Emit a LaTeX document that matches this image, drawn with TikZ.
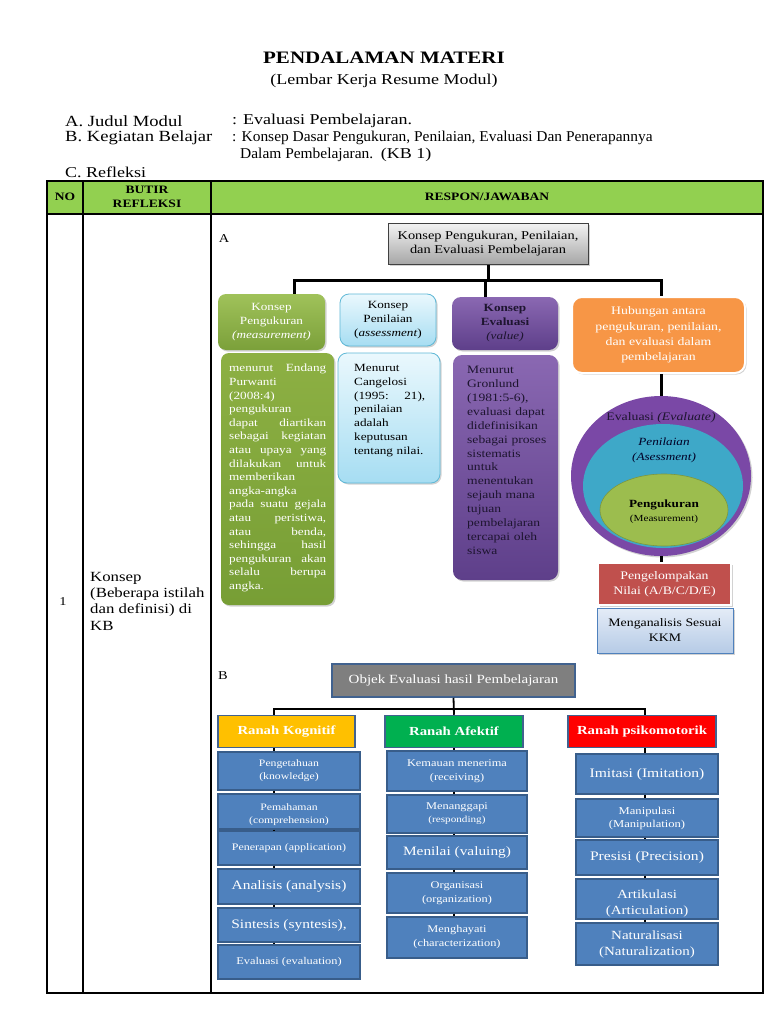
\documentclass[tikz,border=0pt]{standalone}
\usepackage{fontspec}
\setmainfont{Liberation Serif}[FakeStretch=1.2]
\newfontfamily\condfont{Liberation Serif}[FakeStretch=1.03]
\usetikzlibrary{shadows,shapes.geometric}
\definecolor{hdrgreen}{HTML}{92D050}
\definecolor{boxblue}{HTML}{4F81BD}
\definecolor{boxblueedge}{HTML}{385D8A}
\definecolor{orangeA}{HTML}{F79646}
\definecolor{redA}{HTML}{C0504D}
\definecolor{darkpurp}{HTML}{1E1530}
\definecolor{greenT}{HTML}{A0C25A}
\definecolor{greenB}{HTML}{7BA03A}
\definecolor{greenBody}{HTML}{8DB043}
\definecolor{greenBodyB}{HTML}{779E35}
\definecolor{lbT}{HTML}{EAF8FD}
\definecolor{lbB}{HTML}{A6DDF2}
\definecolor{lbEdge}{HTML}{5FB8D6}
\definecolor{purT}{HTML}{8A68B2}
\definecolor{purB}{HTML}{5E3F8A}
\definecolor{evPurple}{HTML}{7A48A6}
\definecolor{pnBlue}{HTML}{3EA8C8}
\definecolor{pgGreen}{HTML}{9CBD4E}
\definecolor{kkmT}{HTML}{E4ECF7}
\definecolor{kkmB}{HTML}{B6CBE6}
\definecolor{objGray}{HTML}{7F7F7F}
\definecolor{objEdge}{HTML}{41628F}
\definecolor{kogY}{HTML}{FFC000}
\definecolor{afG}{HTML}{00B050}
\definecolor{psR}{HTML}{FF0000}
\newcommand\fz[2]{\fontsize{#1}{#2}\selectfont}
\tikzset{
  conn/.style={line width=3pt, black},
  conb/.style={line width=1.8pt, black},
  tbl/.style={line width=1.1pt, black},
  txt/.style={inner sep=0pt, align=center},
  shad/.style={drop shadow={opacity=0.35, shadow xshift=1.5pt, shadow yshift=-1.5pt}},
  graybox/.style={draw=black!75, line width=1pt, top color=white!95!black, bottom color=black!35, align=center, inner sep=2pt, shad},
  gtop/.style={rounded corners=8pt, top color=greenT, bottom color=greenB, text=white, align=center, inner sep=1pt, shad},
  gbody/.style={rounded corners=8pt, top color=greenBody, bottom color=greenBodyB, shad},
  ltop/.style={rounded corners=9pt, draw=lbEdge, line width=0.8pt, top color=lbT, bottom color=lbB, align=center, inner sep=1pt, shad},
  ptop/.style={rounded corners=9pt, top color=purT, bottom color=purB, text=darkpurp, align=center, inner sep=1pt, shad},
  obox/.style={rounded corners=10pt, fill=orangeA, draw=white, line width=2pt, text=white, align=center, inner sep=1pt, shad},
  bb/.style={fill=boxblue, draw=boxblueedge, line width=1.3pt, text=white, align=center, inner sep=1pt, drop shadow={opacity=0.3, shadow xshift=1pt, shadow yshift=-1pt}},
  hdr/.style={draw=objEdge, line width=1.5pt, text=white, align=center, inner sep=1pt, font=\bfseries\fz{12.3}{14}},
  body/.style={txt, anchor=west, font=\fz{15}{17}},
  lbl/.style={txt, anchor=west, font=\fz{15.5}{17}},
}
\begin{document}
\begin{tikzpicture}[x=1pt,y=-1pt]
\useasboundingbox (0,0) rectangle (768,1024);
\fill[white] (0,0) rectangle (768,1024);

% ---------- heading ----------
\node[txt, font=\bfseries\fz{17.5}{20}] (title) at (384,58) {PENDALAMAN MATERI};
\node[txt, font=\fz{15}{17}] (sub) at (384,81) {(Lembar Kerja Resume Modul)};
\node[lbl] (la) at (65,121) {A. Judul Modul};
\node[body] (lav) at (232,121) {: Evaluasi Pembelajaran.};
\node[lbl] (lb) at (65,138) {B. Kegiatan Belajar};
\node[body, font=\condfont\fz{15}{17}] (lbv) at (232,138) {: Konsep Dasar Pengukuran, Penilaian, Evaluasi Dan Penerapannya};
\node[body, font=\condfont\fz{15}{17}] (lbv2) at (240,155) {Dalam Pembelajaran.\ \ {\normalfont\fz{15}{17}(KB 1)}};
\node[body] (lc) at (65,172) {C. Refleksi};

% ---------- table ----------
\fill[hdrgreen] (47,181) rectangle (763,214);
\draw[tbl] (47,181) rectangle (763,993);
\draw[tbl] (47,214) -- (763,214);
\draw[tbl] (83,181) -- (83,993);
\draw[tbl] (211,181) -- (211,993);
\node[txt, font=\bfseries\fz{11.3}{13}] (hno) at (65,197) {NO};
\node[txt, font=\bfseries\fz{11.3}{14}] (hbr) at (147,197) {BUTIR\\REFLEKSI};
\node[txt, font=\bfseries\fz{11.3}{13}] (hrj) at (487,197) {RESPON/JAWABAN};
\node[txt, font=\fz{12}{14}] (no1) at (63,602) {1};
\node[txt, anchor=north west, align=left, font=\fz{14}{16.3}] (br1) at (90,572) {Konsep\\(Beberapa istilah\\dan definisi) di\\KB};

% ---------- section A ----------
\node[txt, font=\fz{12}{14}] (lA) at (224,239) {A};
\node[graybox, minimum width=200pt, minimum height=41pt, font=\fz{12}{14}] (top) at (488,244) {Konsep Pengukuran, Penilaian,\\dan Evaluasi Pembelajaran};

\node[gtop, minimum width=107pt, minimum height=56pt, font=\fz{11}{14}] (g1) at (271.5,322) {Konsep\\Pengukuran\\\textit{(measurement)}};
\node[ltop, minimum width=96pt, minimum height=52pt, font=\fz{11}{14}] (b1) at (388,320) {Konsep\\Penilaian\\(\textit{assessment})};
\node[ptop, minimum width=106pt, minimum height=53pt, font=\bfseries\fz{11}{14}] (p1) at (505,323.5) {Konsep\\Evaluasi\\\mdseries\textit{(value)}};
\node[obox, minimum width=173pt, minimum height=76pt, font=\fz{11.5}{15.3}] (o4) at (658.5,335) {Hubungan antara\\pengukuran, penilaian,\\dan evaluasi dalam\\pembelajaran};

\coordinate (barL) at (294,280);
\coordinate (barM) at (485,280);
\coordinate (barR) at (661,280);
\draw[conn] (top.south) -- (top.south |- barM);
\draw[conn, line join=miter] (g1.north -| barL) -- (barL) -- (barR) -- (barR |- o4.north);
\draw[conn] (barM) -- (barM |- p1.north);

\node[gbody, minimum width=113pt, minimum height=252pt] (g2) at (277.5,479) {};
\node[ltop, minimum width=102pt, minimum height=130pt] (b2) at (389,418) {};
\node[ptop, minimum width=105pt, minimum height=225pt] (p2) at (505.5,467.5) {};

\node[anchor=north west, inner sep=0pt, text width=97pt, align=left, text=white, font=\fz{11}{13.6}] (gtxt) at (229,364)
{menurut\hfill Endang\\Purwanti\\(2008:4)\\pengukuran\\dapat\hfill diartikan\\sebagai\hfill kegiatan\\atau\hfill upaya\hfill yang\\dilakukan\hfill untuk\\memberikan\\angka-angka\\pada\hfill suatu\hfill gejala\\atau\hfill peristiwa,\\atau\hfill benda,\\sehingga\hfill hasil\\pengukuran\hfill akan\\selalu\hfill berupa\\angka.};
\node[anchor=north west, inner sep=0pt, text width=71pt, align=left, text=black, font=\fz{11}{13.8}] (btxt) at (354,364)
{Menurut\\Cangelosi\\(1995:\hfill 21),\\penilaian\\adalah\\keputusan\\tentang nilai.};
\node[anchor=north west, inner sep=0pt, text width=82pt, align=left, text=darkpurp, font=\fz{11.3}{13.9}] (ptxt) at (467,366)
{Menurut\\Gronlund\\(1981:5-6),\\evaluasi dapat\\didefinisikan\\sebagai proses\\sistematis\\untuk\\menentukan\\sejauh mana\\tujuan\\pembelajaran\\tercapai oleh\\siswa};

% circles
\node[ellipse, fill=evPurple, minimum width=180pt, minimum height=160pt, inner sep=0pt, shad] (ev) at (661,476) {};
\node[ellipse, fill=pnBlue, minimum width=160pt, minimum height=124pt, inner sep=0pt] (pn) at (663,486) {};
\node[ellipse, fill=pgGreen, draw=pgGreen!80!black, line width=0.6pt, minimum width=128pt, minimum height=72pt, inner sep=0pt] (pg) at (664,510) {};
\node[txt, font=\fz{11.5}{14}, text=darkpurp] (evt) at (661,418) {Evaluasi \textit{(Evaluate)}};
\node[txt, font=\itshape\fz{11}{15}, text=black!85!blue] (pnt) at (664,450) {Penilaian\\(Asessment)};
\node[txt, font=\bfseries\fz{11}{14}, text=black] (pgt1) at (664,505) {Pengukuran};
\node[txt, font=\fz{9.3}{12}, text=black] (pgt2) at (664,519) {(Measurement)};
\draw[conn] (o4.south -| ev.north) -- (ev.north);

\node[fill=redA, draw=white, line width=2.5pt, minimum width=133pt, minimum height=42pt, text=white, align=center, inner sep=1pt, font=\fz{11.5}{15}, shad] (red) at (664.5,584) {Pengelompakan\\Nilai (A/B/C/D/E)};
\node[draw=boxblue, line width=1pt, top color=kkmT, bottom color=kkmB, minimum width=136pt, minimum height=45pt, align=center, inner sep=1pt, font=\fz{11.5}{15}, shad] (kkm) at (665,630.5) {Menganalisis Sesuai\\KKM};
\draw[conn] (ev.south) -- (ev.south |- red.north);

% ---------- section B ----------
\node[txt, font=\fz{12}{14}] (lB) at (223,676) {B};
\node[fill=objGray, draw=objEdge, line width=1.5pt, minimum width=243pt, minimum height=33pt, text=white, inner sep=1pt, font=\fz{12.5}{15}] (obj) at (453.5,680.5) {Objek Evaluasi hasil Pembelajaran};

\node[hdr, fill=kogY, minimum width=137pt, minimum height=32pt] (hk) at (286.5,731.5) {Ranah Kognitif};
\node[hdr, fill=afG, minimum width=138pt, minimum height=32pt] (ha) at (454,731.5) {Ranah Afektif};
\node[hdr, fill=psR, minimum width=148pt, minimum height=32pt] (hp) at (642,731.5) {Ranah psikomotorik};

\coordinate (kx) at (274,709);
\coordinate (ax) at (454,709);
\coordinate (px) at (645,709);
\draw[conb] (obj.south) -- (ha.north);
\draw[conb] (hk.north -| kx) -- (kx) -- (px) -- (hp.north -| px);

% kognitif
\node[bb, minimum width=142pt, minimum height=38pt, font=\fz{9.8}{13}] (k1) at (289,771) {Pengetahuan\\(knowledge)};
\node[bb, minimum width=142pt, minimum height=35pt, path picture={\node[text=white, align=center, font=\fz{9.8}{13}] at ([yshift=-3pt]path picture bounding box.center) {Pemahaman\\(comprehension)};}] (k2) at (289,811.5) {};
\node[bb, minimum width=142pt, minimum height=34pt, font=\fz{10}{12}] (k3) at (289,848) {Penerapan (application)};
\node[bb, minimum width=142pt, minimum height=35pt, font=\fz{12.9}{15}] (k4) at (289,886.5) {Analisis (analysis)};
\node[bb, minimum width=142pt, minimum height=34pt, font=\fz{12.9}{15}] (k5) at (289,925) {Sintesis (syntesis),};
\node[bb, minimum width=142pt, minimum height=34pt, font=\fz{10.3}{12}] (k6) at (289,962) {Evaluasi (evaluation)};
\foreach \a/\b in {hk/k1,k1/k2,k2/k3,k3/k4,k4/k5,k5/k6}
  \draw[line width=1.2pt] (\a.south -| kx) -- (\b.north -| kx);

% afektif
\node[bb, minimum width=140pt, minimum height=40pt, font=\fz{10.3}{14}] (a1) at (457,771) {Kemauan menerima\\(receiving)};
\node[bb, minimum width=140pt, minimum height=38pt, font=\fz{10.3}{13}] (a2) at (457,814) {Menanggapi\\{\fz{9.3}{11}(responding)}};
\node[bb, minimum width=140pt, minimum height=33pt, font=\fz{12.8}{15}] (a3) at (457,852.5) {Menilai (valuing)};
\node[bb, minimum width=140pt, minimum height=40pt, font=\fz{10.3}{14}] (a4) at (457,893) {Organisasi\\(organization)};
\node[bb, minimum width=140pt, minimum height=41pt, font=\fz{10.3}{14}] (a5) at (457,937.5) {Menghayati\\(characterization)};
\foreach \a/\b in {ha/a1,a1/a2,a2/a3,a3/a4,a4/a5}
  \draw[line width=1.2pt] (\a.south -| ax) -- (\b.north -| ax);

% psikomotorik
\node[bb, minimum width=142pt, minimum height=40pt, font=\fz{13}{14}] (q1) at (647,774) {Imitasi (Imitation)};
\node[bb, minimum width=142pt, minimum height=38pt, font=\fz{10.5}{13}] (q2) at (647,818) {Manipulasi\\(Manipulation)};
\node[bb, minimum width=142pt, minimum height=35pt, font=\fz{13}{14}] (q3) at (647,857.5) {Presisi (Precision)};
\node[bb, minimum width=142pt, minimum height=40pt, path picture={\node[text=white, align=center, font=\fz{12.5}{16}] at ([yshift=-4pt]path picture bounding box.center) {Artikulasi\\(Articulation)};}] (q4) at (647,899) {};
\node[bb, minimum width=142pt, minimum height=42pt, font=\fz{12.5}{16}] (q5) at (647,944) {Naturalisasi\\(Naturalization)};
\foreach \a/\b in {hp/q1,q1/q2,q2/q3,q3/q4,q4/q5}
  \draw[line width=1.2pt] (\a.south -| px) -- (\b.north -| px);

\end{tikzpicture}
\end{document}
